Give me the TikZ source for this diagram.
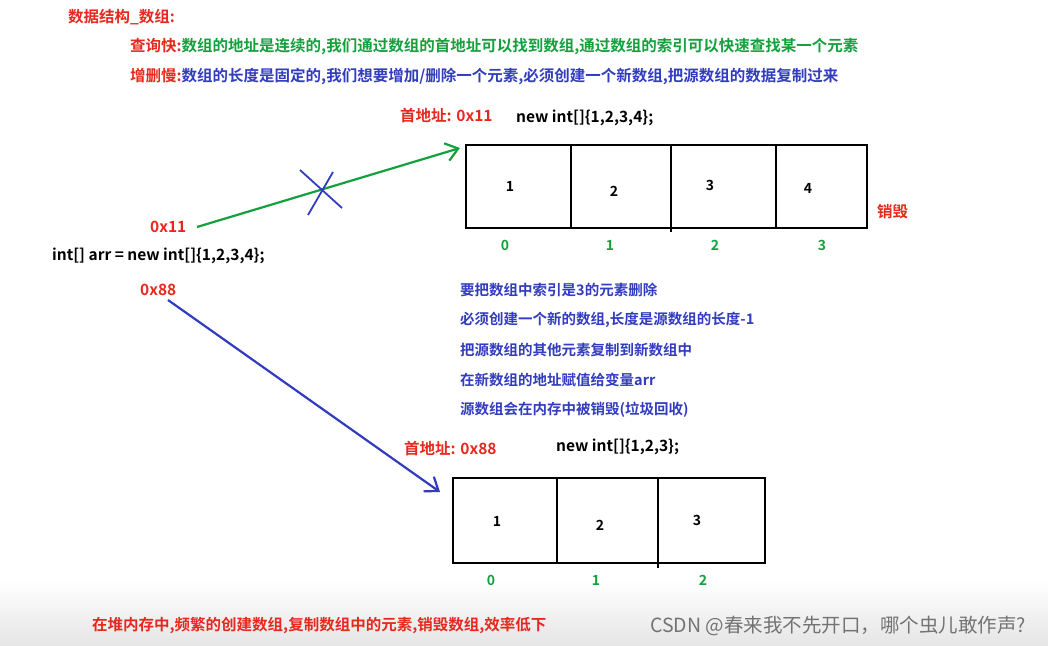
\documentclass[tikz,border=0pt]{standalone}
\usepackage{fontspec}
\setmainfont{Noto Sans CJK SC}[BoldFont={Noto Sans CJK SC Bold}]
\usetikzlibrary{arrows.meta}
\definecolor{rd}{RGB}{230,40,30}
\definecolor{gr}{RGB}{20,160,60}
\definecolor{bl}{RGB}{50,60,190}
\tikzset{
  t/.style={anchor=west,inner sep=0pt,font=\fontsize{15.5}{17}\selectfont\bfseries},
  tn/.style={anchor=west,inner sep=0pt,font=\fontsize{14.5}{17}\selectfont\bfseries},
  tl/.style={anchor=west,inner sep=0pt,font=\fontsize{15.5}{17}\selectfont\bfseries},
  num/.style={inner sep=0pt,font=\fontsize{14}{16}\selectfont\bfseries},
  arr/.style={line width=2.2pt,-{Straight Barb[length=12pt,width=18pt,line width=2.2pt]}}
}
\begin{document}
\begin{tikzpicture}[x=1pt,y=-1pt]
\useasboundingbox (0,0) rectangle (1048,645);
\fill[white] (0,0) rectangle (1048,645);
\shade[top color=white,bottom color=black!10] (0,580) rectangle (1048,645);
% header
\node[t,text=rd] (h0) at (68,17) {数据结构\_数组:};
\node[t,text=rd] (h1) at (130,47) {查询快:\textcolor{gr}{数组的地址是连续的,我们通过数组的首地址可以找到数组,通过数组的索引可以快速查找某一个元素}};
\node[t,text=rd] (h2) at (130,76) {增删慢:\textcolor{bl}{数组的长度是固定的,我们想要增加/删除一个元素,必须创建一个新数组,把源数组的数据复制过来}};
% top array
\draw[line width=2.5pt] (466,145) rectangle (867,228);
\draw[line width=2.5pt] (571,145) -- (571,228) (671,145) -- (671,232) (776,145) -- (776,228);
\node[num] (a1) at (510,186) {1};
\node[num] (a2) at (614,191) {2};
\node[num] (a3) at (710,185) {3};
\node[num] (a4) at (808,188) {4};
\node[num,text=gr] (i0) at (505,245) {0};
\node[num,text=gr] (i1) at (610,245) {1};
\node[num,text=gr] (i2) at (715,245) {2};
\node[num,text=gr] (i3) at (822,245) {3};
\node[tl,text=rd] (addr1) at (400,116) {首地址: 0x11};
\node[tl] (new1) at (516,118) {new int[]\{1,2,3,4\};};
\node[tl,text=rd] (xh) at (877,212) {销毁};
% left
\node[tl,text=rd] (p11) at (150,227) {0x11};
\node[tl] (decl) at (52,256) {int[] arr = new int[]\{1,2,3,4\};};
\node[tl,text=rd] (p88) at (140,290) {0x88};
\coordinate (gs) at (197,227);
\coordinate (ge) at (460,148);
\draw[arr,draw=gr] (gs) -- (ge);
\draw[bl,line width=1.8pt] (300,170) -- (342,208) (333,172) -- (308,215);
\coordinate (bs) at (168,300);
\coordinate (be) at (440,492);
\draw[arr,draw=bl] (bs) -- (be);
% blue notes
\node[tn,text=bl] (n1) at (460,290) {要把数组中索引是3的元素删除};
\node[tn,text=bl] (n2) at (460,320) {必须创建一个新的数组,长度是源数组的长度-1};
\node[tn,text=bl] (n3) at (460,350) {把源数组的其他元素复制到新数组中};
\node[tn,text=bl] (n4) at (460,380) {在新数组的地址赋值给变量arr};
\node[tn,text=bl] (n5) at (460,410) {源数组会在内存中被销毁(垃圾回收)};
% bottom array
\node[tl,text=rd] (addr2) at (404,449) {首地址: 0x88};
\node[tl] (new2) at (556,447) {new int[]\{1,2,3\};};
\draw[line width=2.5pt] (453,478) rectangle (765,563);
\draw[line width=2.5pt] (557,478) -- (557,563) (658,478) -- (658,568);
\node[num] (b1) at (497,521) {1};
\node[num] (b2) at (600,525) {2};
\node[num] (b3) at (697,520) {3};
\node[num,text=gr] (j0) at (491,580) {0};
\node[num,text=gr] (j1) at (596,580) {1};
\node[num,text=gr] (j2) at (703,580) {2};
\node[t,text=rd] (foot) at (92,626) {在堆内存中,频繁的创建数组,复制数组中的元素,销毁数组,效率低下};
\node[anchor=west,inner sep=0pt,text=black!55,font=\fontsize{19.5}{21}\selectfont] (wm) at (650,626) {CSDN @春来我不先开口，哪个虫儿敢作声?};
\end{tikzpicture}
\end{document}
